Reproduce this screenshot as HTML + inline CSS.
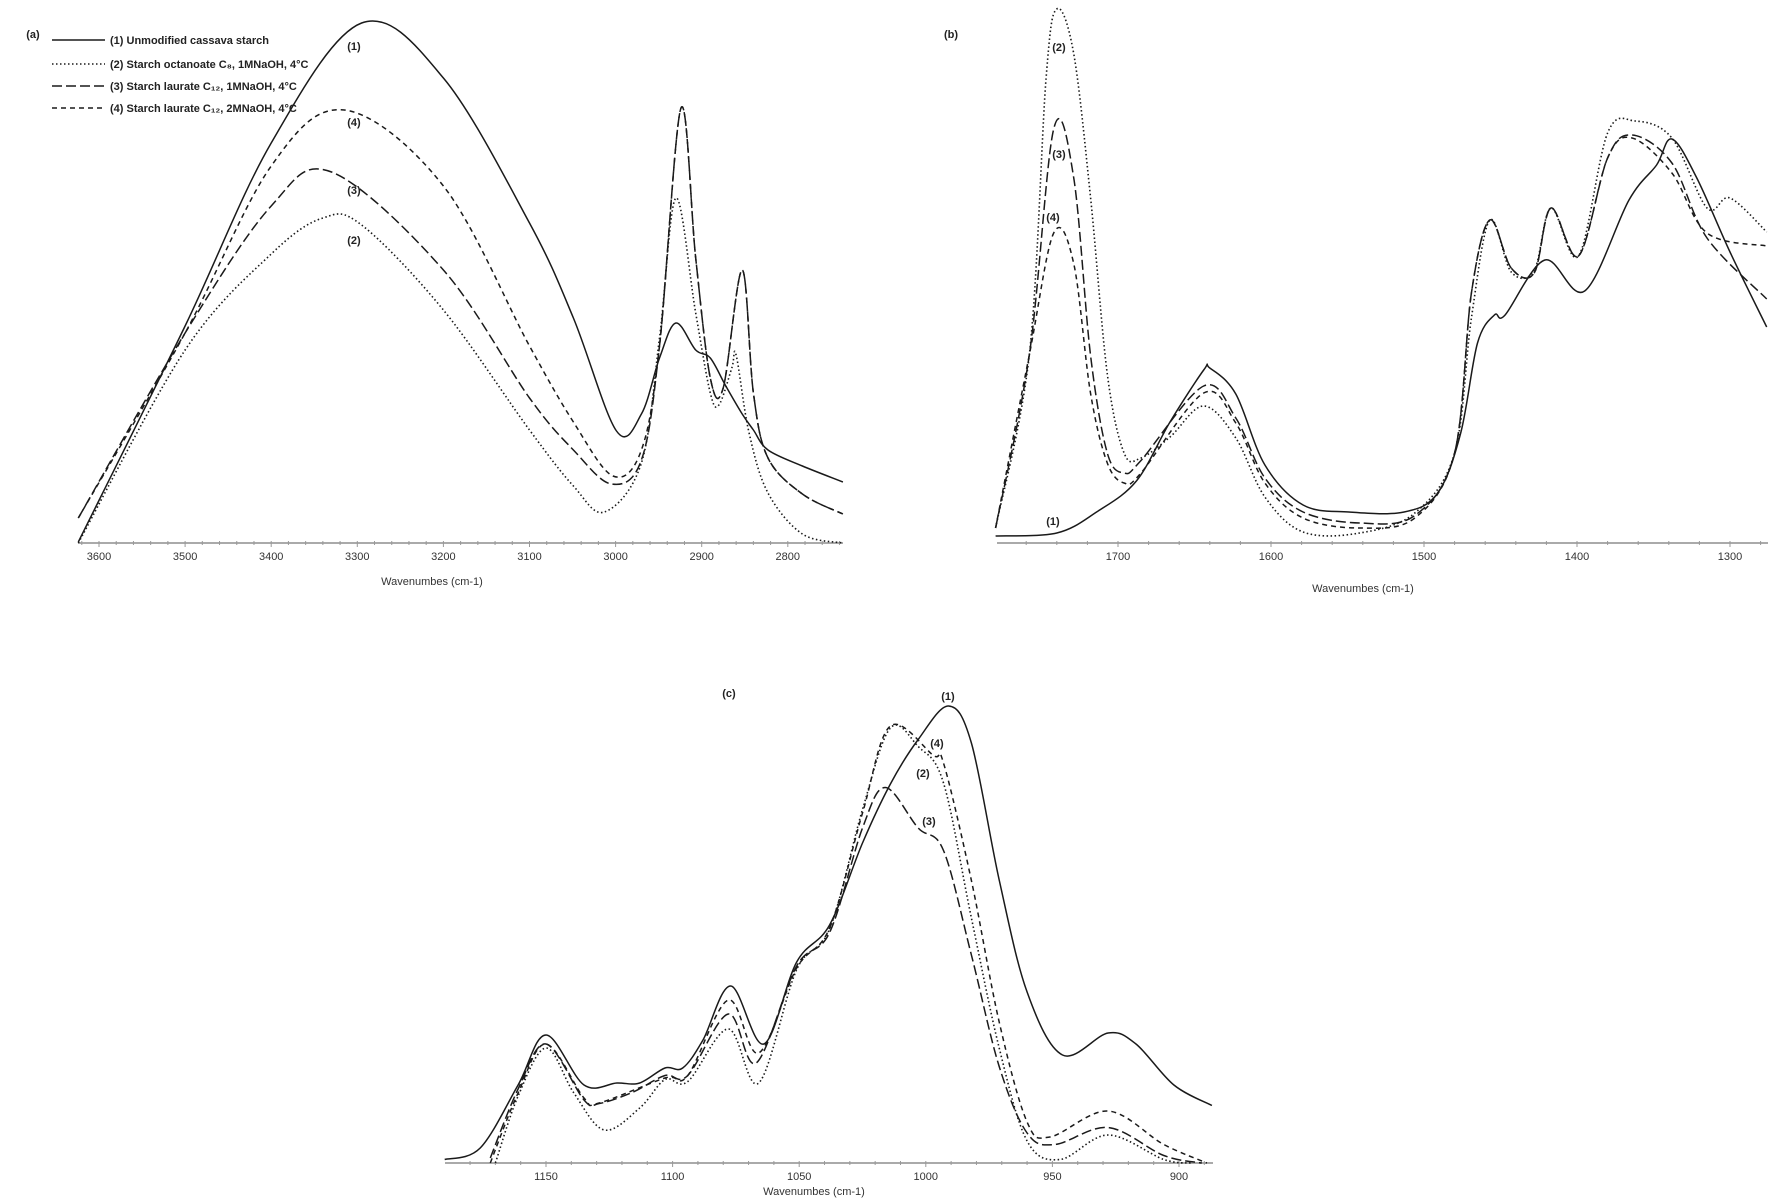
<!DOCTYPE html>
<html><head><meta charset="utf-8"><style>
html,body{margin:0;padding:0;background:#fff;}
svg{display:block;font-family:"Liberation Sans",sans-serif;}
.lbl{font-size:11px;font-weight:bold;fill:#222;}
.tick{font-size:11px;fill:#333;}
</style></head><body>
<svg id="chart" width="1781" height="1203" viewBox="0 0 1781 1203" xmlns="http://www.w3.org/2000/svg"></svg>
<script>
// ---------- Panel (a) data ----------
const aWn1 = [3624,3500,3400,3295,3200,3100,3049,2999,2970,2949,2930,2907,2890,2872,2853,2840,2823,2783,2736];
const aV1  = [0.002,0.434,0.80,1.04,0.93,0.64,0.45,0.224,0.258,0.37,0.44,0.386,0.37,0.314,0.258,0.226,0.186,0.154,0.122];
const aWn2 = [3624,3500,3400,3340,3295,3200,3100,3049,3013,2970,2949,2930,2907,2890,2880,2865,2860,2845,2823,2783,2736];
const aV2  = [0.0,0.386,0.578,0.65,0.636,0.466,0.226,0.114,0.062,0.16,0.41,0.69,0.46,0.3,0.276,0.35,0.376,0.22,0.1,0.018,0.0];
const aWn3 = [3624,3500,3400,3330,3200,3100,3049,3005,2970,2949,2924,2907,2890,2875,2853,2840,2823,2783,2736];
const aV3  = [0.05,0.42,0.674,0.742,0.546,0.29,0.186,0.118,0.166,0.394,0.87,0.57,0.33,0.31,0.546,0.3,0.17,0.098,0.058];
const aWn4 = [3624,3500,3400,3315,3200,3100,3049,3003,2970,2949,2924,2907,2890,2875,2853,2840,2823,2783,2736];
const aV4  = [0.05,0.42,0.754,0.866,0.714,0.394,0.242,0.134,0.186,0.394,0.87,0.57,0.33,0.31,0.546,0.3,0.17,0.098,0.058];
const aTicks = [3600,3500,3400,3300,3200,3100,3000,2900,2800];
// ---------- Panel (b) data ----------
const bWn1 = [1780,1740,1714,1688,1666,1644,1640,1623,1604,1579,1549,1513,1491,1476,1465,1454,1447,1421,1395,1366,1348,1338,1322,1300,1276];
const bV1  = [0.014,0.02,0.062,0.124,0.242,0.346,0.35,0.298,0.156,0.076,0.062,0.062,0.1,0.22,0.40,0.456,0.456,0.566,0.504,0.686,0.756,0.808,0.732,0.582,0.432];
const bWn2 = [1780,1758,1747,1740,1729,1718,1707,1696,1685,1666,1644,1623,1604,1579,1542,1506,1480,1469,1457,1443,1428,1417,1399,1380,1362,1338,1315,1300,1276];
const bV2  = [0.03,0.376,0.93,1.068,0.98,0.692,0.338,0.18,0.17,0.212,0.274,0.21,0.092,0.022,0.02,0.06,0.18,0.45,0.646,0.542,0.545,0.67,0.574,0.82,0.844,0.81,0.67,0.69,0.622];
const bWn3 = [1780,1758,1742,1729,1718,1707,1696,1685,1644,1623,1604,1579,1542,1506,1480,1469,1457,1443,1428,1417,1399,1380,1364,1338,1315,1276];
const bV3  = [0.03,0.376,0.828,0.732,0.376,0.18,0.14,0.165,0.314,0.25,0.13,0.062,0.04,0.055,0.18,0.5,0.646,0.55,0.54,0.67,0.574,0.77,0.816,0.76,0.61,0.488];
const bWn4 = [1780,1758,1742,1729,1718,1707,1696,1685,1644,1623,1604,1579,1542,1506,1480,1469,1457,1443,1428,1417,1399,1380,1364,1338,1315,1276];
const bV4  = [0.03,0.376,0.62,0.56,0.30,0.16,0.12,0.14,0.30,0.24,0.12,0.05,0.03,0.05,0.18,0.5,0.646,0.55,0.54,0.67,0.574,0.77,0.81,0.74,0.62,0.594];
const bTicks = [1700,1600,1500,1400,1300];
// ---------- Panel (c) data ----------
const cWn1 = [1190,1176,1161,1150,1135,1122,1113,1103,1096,1088,1077,1064,1051,1038,1025,1014,1003,991,982,971,960,946,928,917,902,887];
const cV1  = [0.007,0.03,0.156,0.256,0.156,0.16,0.16,0.19,0.19,0.246,0.354,0.238,0.402,0.476,0.64,0.758,0.847,0.914,0.84,0.566,0.342,0.216,0.26,0.238,0.156,0.115];
const cWn2 = [1170,1161,1150,1139,1127,1113,1103,1094,1078,1066,1051,1038,1025,1014,1003,993,982,971,960,947,928,906,895];
const cV2  = [0.0,0.134,0.23,0.14,0.066,0.11,0.167,0.163,0.268,0.16,0.387,0.468,0.707,0.87,0.833,0.76,0.49,0.23,0.044,0.007,0.056,0.007,0.0];
const cWn3 = [1172,1161,1150,1135,1129,1116,1103,1094,1078,1067,1051,1038,1025,1016,1003,993,982,971,960,949,928,906,891];
const cV3  = [0.01,0.148,0.238,0.126,0.119,0.141,0.175,0.175,0.298,0.2,0.394,0.461,0.67,0.751,0.67,0.625,0.416,0.193,0.06,0.037,0.071,0.015,0.0];
const cWn4 = [1172,1161,1150,1135,1129,1103,1094,1078,1066,1051,1038,1025,1014,997,993,982,971,960,951,928,906,889];
const cV4  = [0.0,0.14,0.238,0.13,0.12,0.17,0.175,0.326,0.22,0.39,0.47,0.70,0.874,0.815,0.80,0.565,0.282,0.082,0.052,0.104,0.037,0.0];
const cTicks = [1150,1100,1050,1000,950,900];

const NS = "http://www.w3.org/2000/svg";
const svg = document.getElementById("chart");
function mk(tag, attrs, parent){const e=document.createElementNS(NS,tag);for(const k in attrs)e.setAttribute(k,attrs[k]);(parent||svg).appendChild(e);return e;}
function smooth(pts){
  let d="M"+pts[0][0].toFixed(1)+","+pts[0][1].toFixed(1);
  for(let i=0;i<pts.length-1;i++){
    const p0=pts[Math.max(0,i-1)],p1=pts[i],p2=pts[i+1],p3=pts[Math.min(pts.length-1,i+2)];
    const c1=[p1[0]+(p2[0]-p0[0])/6,p1[1]+(p2[1]-p0[1])/6];
    const c2=[p2[0]-(p3[0]-p1[0])/6,p2[1]-(p3[1]-p1[1])/6];
    d+=" C"+c1[0].toFixed(1)+","+c1[1].toFixed(1)+" "+c2[0].toFixed(1)+","+c2[1].toFixed(1)+" "+p2[0].toFixed(1)+","+p2[1].toFixed(1);
  }
  return d;
}
const dashes=["none","1.5 2.5","10 4","5 4"];
function panel(name,cfg){
  const g=mk("g",{});
  
  
  const xs=w=>cfg.x0+(cfg.wRef-w)*cfg.pxPer;
  const ys=v=>cfg.axisY-v*cfg.scaleY;
  const ax=mk("line",{x1:cfg.xa,x2:cfg.xb,y1:cfg.axisY,y2:cfg.axisY,stroke:"#aaa","stroke-width":2},g);
  
  
  for(let w=cfg.wMinT; w>=cfg.wMaxT; w-=cfg.minorStep){
    const x=xs(w); if(x<cfg.xa||x>cfg.xb) continue;
    const isMaj = cfg.ticks.includes(w);
    mk("line",{x1:x,x2:x,y1:cfg.axisY-2,y2:cfg.axisY+(isMaj?4:2),stroke:"#999","stroke-width":1},g);
  }
  cfg.ticks.forEach(t=>{
    const tx=mk("text",{x:xs(t),y:cfg.axisY+17,"text-anchor":"middle",class:"tick"},g);
    tx.textContent=t;
    
    
  });
  const tt=mk("text",{x:cfg.titleX,y:cfg.titleY,"text-anchor":"middle",class:"tick"},g);
  tt.textContent="Wavenumbes (cm-1)";
  
  
  cfg.series.forEach((s,i)=>{
    const pts=s[0].map((w,j)=>[xs(w),ys(s[1][j])]);
    const p=mk("path",{d:smooth(pts),fill:"none",stroke:"#1a1a1a","stroke-width":i==1?1.6:1.5,"stroke-dasharray":dashes[i]},g);
    
    
  });
  cfg.labels.forEach(l=>{
    const t=mk("text",{x:l[1],y:l[2],"text-anchor":"middle",class:"lbl"},g);
    t.textContent=l[0];
    
    
  });
}
panel('panel-a',{x0:99,wRef:3600,pxPer:0.861,axisY:543,scaleY:500,xa:78,xb:843,wMinT:3620,wMaxT:2736,minorStep:20,ticks:aTicks,titleX:432,titleY:585,
  series:[[aWn1,aV1],[aWn2,aV2],[aWn3,aV3],[aWn4,aV4]],
  labels:[["(a)",33,38],["(1)",354,50],["(4)",354,126],["(3)",354,194],["(2)",354,244]]});
panel('panel-b',{x0:1118,wRef:1700,pxPer:1.53,axisY:543,scaleY:500,xa:997,xb:1768,wMinT:1780,wMaxT:1276,minorStep:20,ticks:bTicks,titleX:1363,titleY:592,
  series:[[bWn1,bV1],[bWn2,bV2],[bWn3,bV3],[bWn4,bV4]],
  labels:[["(b)",951,38],["(2)",1059,51],["(3)",1059,158],["(4)",1053,221],["(1)",1053,525]]});
panel('panel-c',{x0:546,wRef:1150,pxPer:2.532,axisY:1163,scaleY:500,xa:445,xb:1213,wMinT:1190,wMaxT:880,minorStep:10,ticks:cTicks,titleX:814,titleY:1195,
  series:[[cWn1,cV1],[cWn2,cV2],[cWn3,cV3],[cWn4,cV4]],
  labels:[["(c)",729,697],["(1)",948,700],["(4)",937,747],["(2)",923,777],["(3)",929,825]]});

const legTexts=["(1) Unmodified cassava starch","(2) Starch octanoate C\u2088, 1MNaOH, 4°C","(3) Starch laurate C\u2081\u2082, 1MNaOH, 4°C","(4) Starch laurate C\u2081\u2082, 2MNaOH, 4°C"];
const legY=[40,64,86,108];
legTexts.forEach((t,i)=>{
  const g=mk("g",{});
  
  
  mk("line",{x1:52,x2:105,y1:legY[i],y2:legY[i],stroke:"#1a1a1a","stroke-width":1.5,"stroke-dasharray":dashes[i]},g);
  const tx=mk("text",{x:110,y:legY[i]+4,class:"lbl"},g);
  tx.textContent=t;
});
</script>
</body></html>
